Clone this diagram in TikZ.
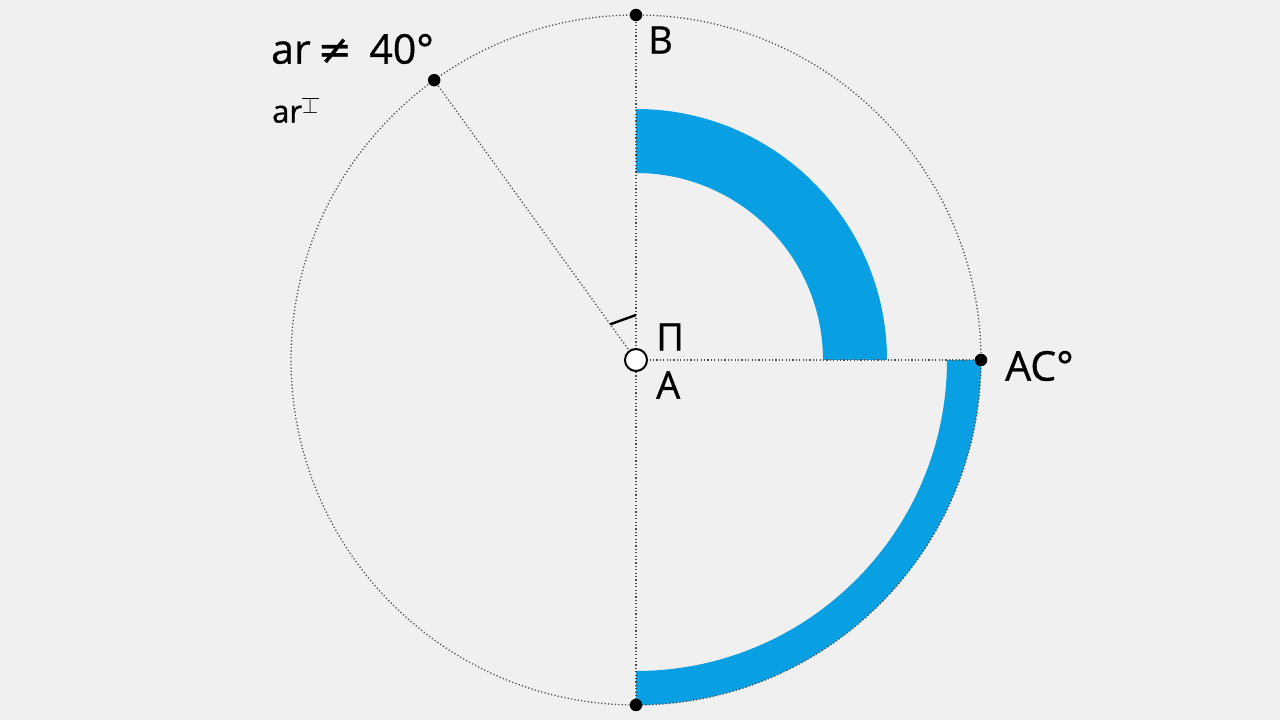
\documentclass[tikz,border=0pt]{standalone}
\usepackage{fontspec}
\setmainfont{Open Sans}[FakeBold=0.8]
\newfontfamily\symfont{DejaVu Sans}[FakeBold=0.6]
\definecolor{bg}{HTML}{F0F0F0}
\definecolor{band}{RGB}{8,160,226}
\begin{document}
\begin{tikzpicture}[x=1pt,y=1pt,
  dotline/.style={draw=black!70, line width=1.3pt, dash pattern=on 1.2pt off 2.2pt},
  blackdot/.style={circle, fill=black, inner sep=0pt, minimum size=12.5pt},
  hollow/.style={circle, draw=black, line width=2pt, fill=white, inner sep=0pt, minimum size=22pt},
  lbl/.style={inner sep=0pt, font=\fontsize{38}{42}\selectfont},
  lblbig/.style={inner sep=0pt, font=\fontsize{41}{45}\selectfont},
  lblsmall/.style={inner sep=0pt, font=\fontsize{31}{35}\selectfont}]
\fill[bg] (0,0) rectangle (1280,720);
\useasboundingbox (0,0) rectangle (1280,720);
\coordinate (O) at (636,360);
\begin{scope}[shift={(O)}]
  % blue bands
  \fill[band] (90:251) arc[start angle=90,end angle=0,radius=251] -- (0:187) arc[start angle=0,end angle=90,radius=187] -- cycle;
  \fill[band] (0:345) arc[start angle=0,end angle=-90,radius=345] -- (-90:311) arc[start angle=-90,end angle=0,radius=311] -- cycle;
  % dotted circle
  \draw[dotline] (0,0) circle[radius=345];
  \coordinate (Bp) at (90:345);
  \coordinate (Dp) at (-90:345);
  \coordinate (Cp) at (0:345);
  \coordinate (Ep) at (125.8:345);
  \coordinate (m1) at (125.8:44);
  \coordinate (m2) at (90:45);
\end{scope}
\draw[dotline] (Bp) -- (Dp);
\draw[dotline] (O) -- (Cp);
\draw[dotline] (O) -- (Ep);
\draw[line width=2.4pt] (m1) -- (m2);
\node[blackdot] (B) at (Bp) {};
\node[blackdot] (D) at (Dp) {};
\node[blackdot] (C) at (Cp) {};
\node[blackdot] (E) at (Ep) {};
\node[hollow] (A) at (O) {};
% labels
\node[lbl, anchor=west] (lB) at (648,680) {B};
\node[lbl, anchor=west] (lPi) at (656,383) {Π};
\node[lbl, anchor=west] (lA) at (656,335) {A};
\node[lblbig, anchor=west] (lAC) at (1005,354) {AC°};
\node[lblbig, anchor=west] (lE1) at (271,671) {ar\,{\symfont ≠}\, 40°};
\node[lblsmall, anchor=west] (lE2) at (272,610) {ar$^{\overline{\perp}}$};
\end{tikzpicture}
\end{document}
